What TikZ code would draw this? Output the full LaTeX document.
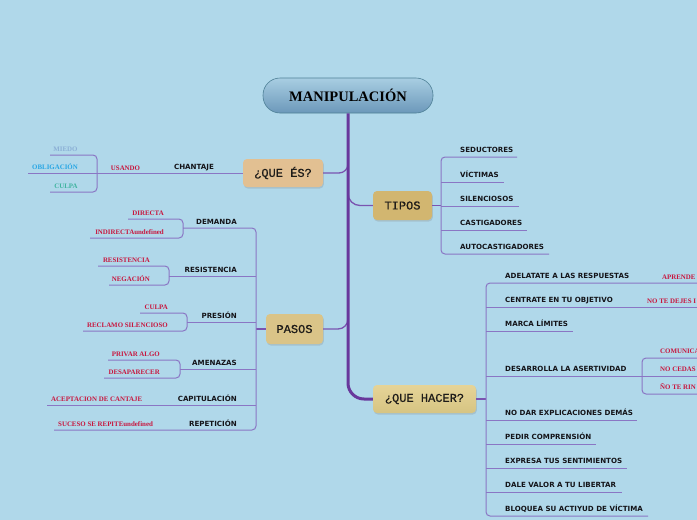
\documentclass[tikz,border=0pt]{standalone}
\usepackage{fontspec}
\setmainfont{Liberation Serif}
\newfontfamily\sanslab{DejaVu Sans}
\newfontfamily\serlab{Liberation Serif}
\newfontfamily\monolab[FakeBold=0.6]{Liberation Mono}
\usetikzlibrary{shadows}
\definecolor{bgc}{RGB}{176,216,234}
\definecolor{linec}{RGB}{138,118,196}
\definecolor{trunkc}{RGB}{104,56,156}
\definecolor{connc}{RGB}{122,84,176}
\definecolor{txtc}{RGB}{20,20,25}
\definecolor{redc}{RGB}{200,22,62}
\definecolor{miedoc}{RGB}{140,176,214}
\definecolor{oblic}{RGB}{40,166,228}
\definecolor{culpac}{RGB}{64,180,160}
\definecolor{rootTop}{RGB}{168,206,226}
\definecolor{rootBot}{RGB}{108,152,186}
\definecolor{rootBd}{RGB}{78,128,150}
\definecolor{queC}{RGB}{226,192,146}
\definecolor{tiposC}{RGB}{210,182,112}
\definecolor{pasosC}{RGB}{218,196,136}
\definecolor{hacerTop}{RGB}{230,212,152}
\definecolor{hacerBot}{RGB}{214,196,130}
\definecolor{boxtxt}{RGB}{30,28,25}
\begin{document}
\begin{tikzpicture}[x=1pt,y=-1pt,
  topic/.style={font=\sanslab\bfseries\fontsize{7.1}{8}\selectfont, text=txtc, inner sep=0pt},
  redl/.style={font=\serlab\bfseries\fontsize{6.9}{7.5}\selectfont, text=redc, inner sep=0pt},
  ln/.style={draw=linec, line width=1pt},
  trunk/.style={draw=trunkc, line width=3pt},
  conn/.style={draw=connc, line width=1.3pt},
  mbox/.style={rounded corners=4pt, font=\monolab\fontsize{12}{13}\selectfont, text=boxtxt,
    inner sep=0pt, drop shadow={shadow xshift=0.8pt, shadow yshift=-1.5pt, opacity=0.25}},
]
\useasboundingbox (0,0) rectangle (697,520);
\fill[bgc] (0,0) rectangle (697,520);

% ---------- boxes ----------
\node[draw=rootBd, line width=0.6pt, rounded corners=17pt, top color=rootTop, bottom color=rootBot,
  minimum width=170pt, minimum height=35pt, inner sep=0pt,
  font=\serlab\bfseries\fontsize{14.5}{16}\selectfont, text=black] (root) at (348,95.5) {MANIPULACIÓN};
\node[mbox, fill=queC, minimum width=80pt, minimum height=28pt] (que) at (283,173) {¿QUE ÉS?};
\node[mbox, fill=tiposC, minimum width=59pt, minimum height=29pt] (tipos) at (402.5,205.5) {TIPOS};
\node[mbox, fill=pasosC, minimum width=57pt, minimum height=30pt] (pasos) at (294.5,329) {PASOS};
\node[mbox, top color=hacerTop, bottom color=hacerBot, minimum width=103pt, minimum height=28pt] (hacer) at (424.5,399) {¿QUE HACER?};

% ---------- trunk ----------
\coordinate (tQue) at (348,150);
\coordinate (tTipos) at (348,182);
\coordinate (tPasos) at (348,310);
\draw[conn, rounded corners=9pt] (tQue) |- (que.east);
\draw[conn, rounded corners=12pt] (tTipos) |- (tipos.west);
\draw[conn, rounded corners=10pt] (pasos.east) -| (tPasos);
\draw[trunk, rounded corners=16pt] (root.south) |- (hacer.west);

% ---------- ¿QUE ÉS? ----------
\coordinate (qEnd) at (28,173);
\coordinate (bq1) at (50,155);
\coordinate (bq2) at (97,155);
\coordinate (bq3) at (97,192);
\coordinate (bq4) at (50,192);
\draw[ln] (que.west) -- (qEnd);
\draw[ln, rounded corners=4pt] (bq1) -- (bq2) -- (bq3) -- (bq4);
\node[topic, anchor=base] (chantaje) at (194,169.5) {CHANTAJE};
\node[redl, anchor=base] (usando) at (125.5,170) {USANDO};
\node[redl, text=miedoc, anchor=base] (miedo) at (65.5,151) {MIEDO};
\node[redl, text=oblic, anchor=base] (obli) at (55,169.5) {OBLIGACIÓN};
\node[redl, text=culpac, anchor=base] (culpa1) at (66,188) {CULPA};

% ---------- TIPOS ----------
\coordinate (tb) at (441,205.5);
\draw[conn] (tipos.east) -- (tb);
\draw[ln, rounded corners=4pt] (517,157) -- (441,157) -- (441,254) -- (549,254);
\draw[ln] (441,182) -- (504,182);
\draw[ln] (441,206) -- (519,206);
\draw[ln] (441,230) -- (527,230);
\node[topic, anchor=base west] (seduc) at (460,152.5) {SEDUCTORES};
\node[topic, anchor=base west] (vict) at (460,177.5) {VÍCTIMAS};
\node[topic, anchor=base west] (silen) at (460,201.5) {SILENCIOSOS};
\node[topic, anchor=base west] (casti) at (460,225.5) {CASTIGADORES};
\node[topic, anchor=base west] (auto) at (460,249.5) {AUTOCASTIGADORES};

% ---------- PASOS ----------
\coordinate (pb) at (256,329);
\draw[conn] (pasos.west) -- (pb);
\draw[ln, rounded corners=4pt] (183,228) -- (256,228) -- (256,430) -- (54,430);
\draw[ln] (256,276) -- (169,276);
\draw[ln] (256,322) -- (187,322);
\draw[ln] (256,369) -- (180,369);
\draw[ln] (256,405) -- (47,405);
\draw[ln, rounded corners=4pt] (128,219) -- (183,219) -- (183,238) -- (90,238);
\draw[ln, rounded corners=4pt] (98,266) -- (169,266) -- (169,285) -- (109,285);
\draw[ln, rounded corners=4pt] (140,313) -- (187,313) -- (187,331) -- (83,331);
\draw[ln, rounded corners=4pt] (108,360) -- (180,360) -- (180,378) -- (104,378);
\node[topic, anchor=base east] (dem) at (237,224.5) {DEMANDA};
\node[topic, anchor=base east] (res) at (237,272) {RESISTENCIA};
\node[topic, anchor=base east] (pres) at (237,318) {PRESIÓN};
\node[topic, anchor=base east] (amen) at (237,365) {AMENAZAS};
\node[topic, anchor=base east] (capi) at (237,401) {CAPITULACIÓN};
\node[topic, anchor=base east] (repe) at (237,426) {REPETICIÓN};
\node[redl, anchor=base east] (dir) at (164,215.5) {DIRECTA};
\node[redl, anchor=base east] (indir) at (164,234.5) {INDIRECTAundefined};
\node[redl, anchor=base east] (resi) at (150,262.5) {RESISTENCIA};
\node[redl, anchor=base east] (nega) at (150,281.5) {NEGACIÓN};
\node[redl, anchor=base east] (culpa2) at (168,309.5) {CULPA};
\node[redl, anchor=base east] (recl) at (168,327.5) {RECLAMO SILENCIOSO};
\node[redl, anchor=base east] (priv) at (160,356.5) {PRIVAR ALGO};
\node[redl, anchor=base east] (desa) at (160,374.5) {DESAPARECER};
\node[redl, anchor=base west] (acep) at (51,401.5) {ACEPTACION DE CANTAJE};
\node[redl, anchor=base west] (suce) at (58,426.5) {SUCESO SE REPITEundefined};

% ---------- ¿QUE HACER? ----------
\coordinate (hb) at (486,399);
\draw[conn] (hacer.east) -- (hb);
\draw[ln, rounded corners=4pt] (697,283) -- (486,283) -- (486,516) -- (648,516);
\draw[ln] (486,307) -- (697,307);
\draw[ln] (486,331) -- (573,331);
\draw[ln] (486,376) -- (697,376);
\draw[ln, rounded corners=4pt] (697,358) -- (642,358) -- (642,394) -- (697,394);
\draw[ln] (486,420) -- (637,420);
\draw[ln] (486,444) -- (596,444);
\draw[ln] (486,468) -- (627,468);
\draw[ln] (486,492) -- (622,492);
\node[topic, anchor=base west] (adel) at (505,278.5) {ADELATATE A LAS RESPUESTAS};
\node[topic, anchor=base west] (cent) at (505,302.5) {CENTRATE EN TU OBJETIVO};
\node[topic, anchor=base west] (marc) at (505,326.5) {MARCA LÍMITES};
\node[topic, anchor=base west] (desar) at (505,371.5) {DESARROLLA LA ASERTIVIDAD};
\node[topic, anchor=base west] (nodar) at (505,415.5) {NO DAR EXPLICACIONES DEMÁS};
\node[topic, anchor=base west] (pedir) at (505,439.5) {PEDIR COMPRENSIÓN};
\node[topic, anchor=base west] (expr) at (505,463.5) {EXPRESA TUS SENTIMIENTOS};
\node[topic, anchor=base west] (dale) at (505,487.5) {DALE VALOR A TU LIBERTAR};
\node[topic, anchor=base west] (bloq) at (505,511.5) {BLOQUEA SU ACTIYUD DE VÍCTIMA};
\node[redl, anchor=base west] (apre) at (662,279) {APRENDE};
\node[redl, anchor=base west] (nodej) at (647,303) {NO TE DEJES I};
\node[redl, anchor=base west] (comu) at (660,353.5) {COMUNICA};
\node[redl, anchor=base west] (noced) at (660,371.5) {NO CEDAS};
\node[redl, anchor=base west] (norin) at (660,389.5) {ÑO TE RIN};
\end{tikzpicture}
\end{document}
